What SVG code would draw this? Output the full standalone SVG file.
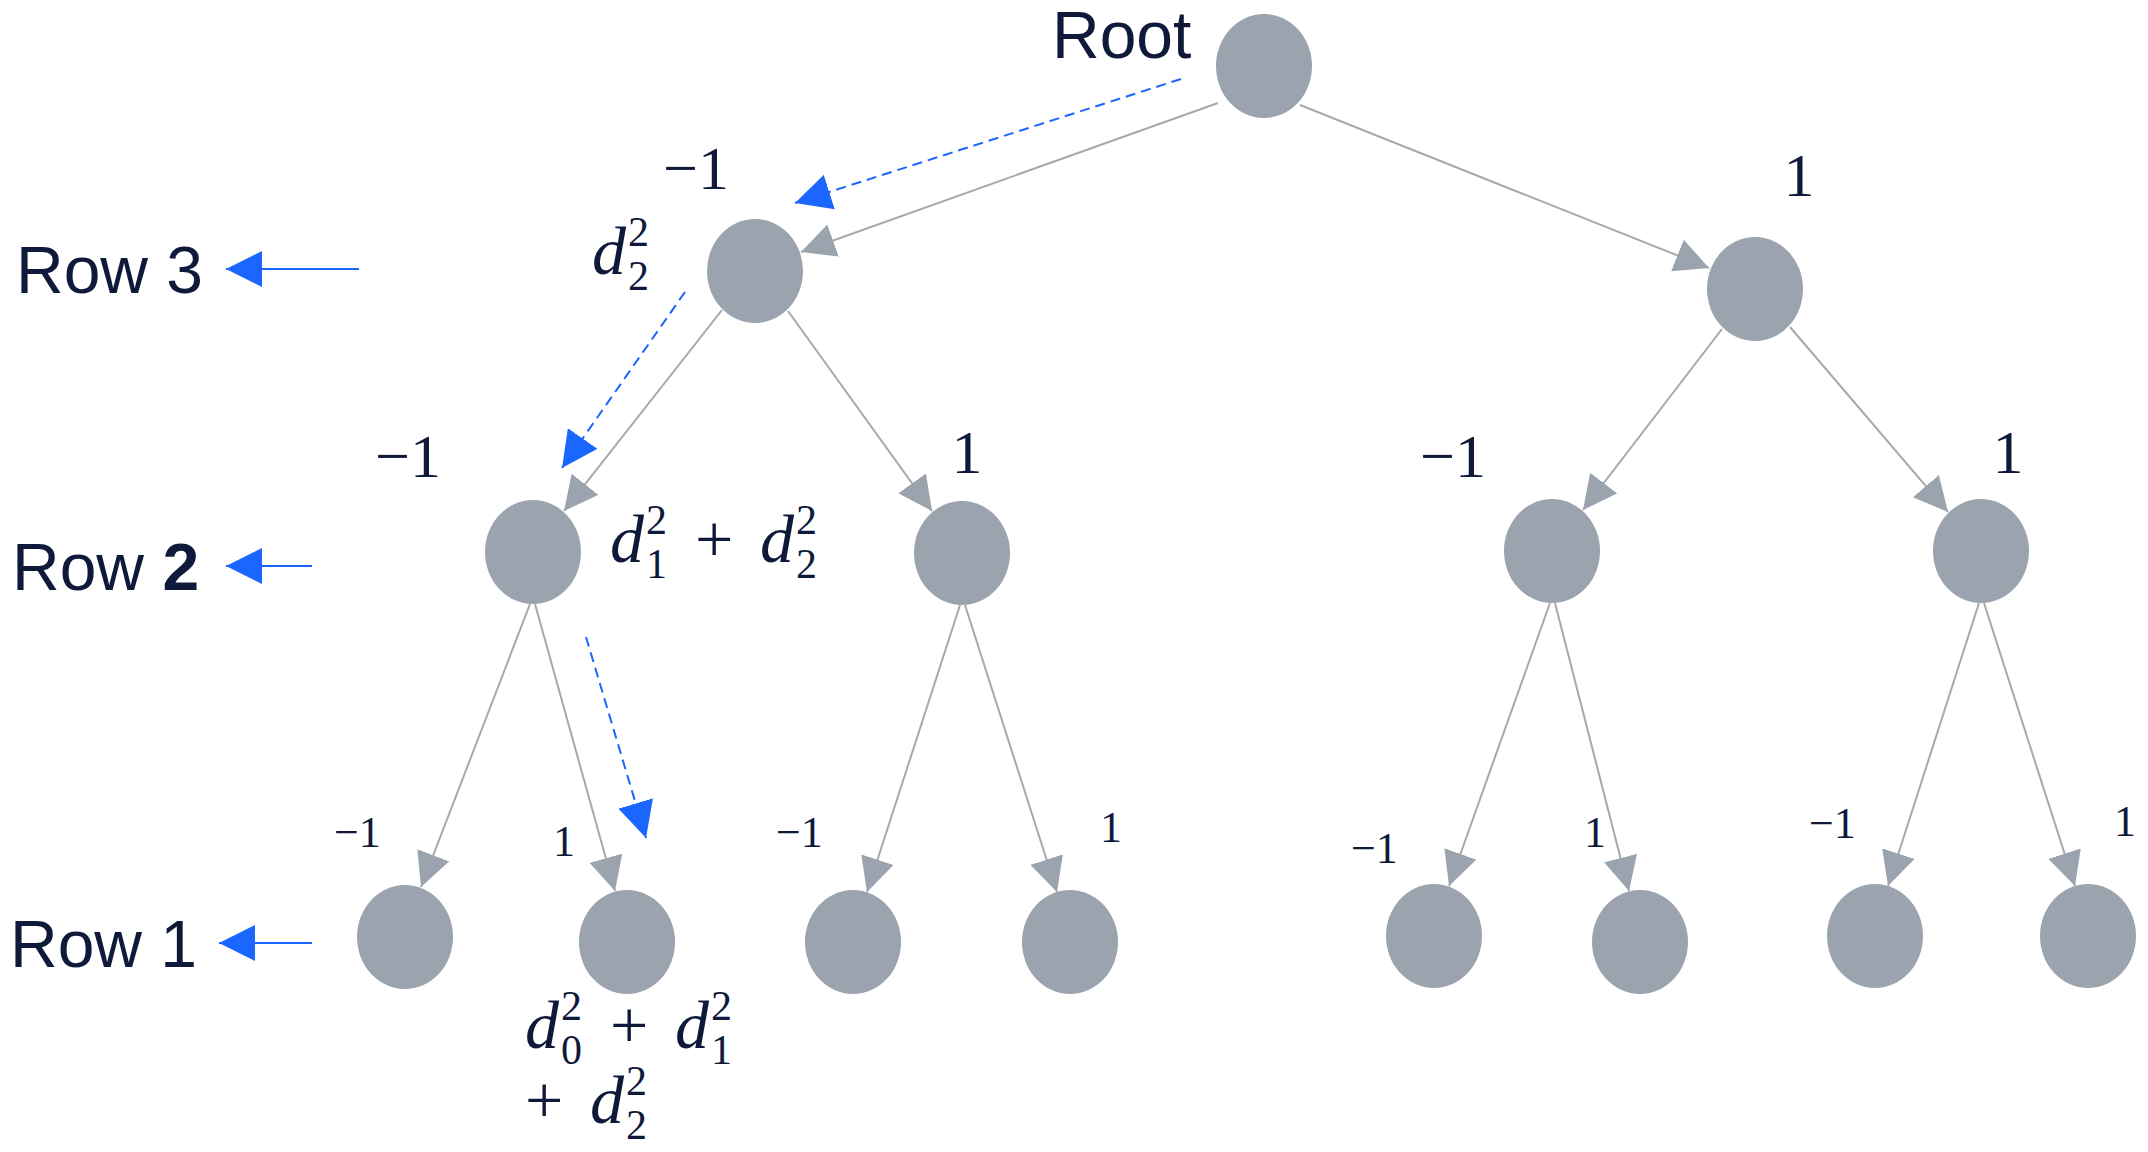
<svg xmlns="http://www.w3.org/2000/svg" width="2148" height="1152" viewBox="0 0 2148 1152">
<style>
.n{fill:#9aa3ae}
.e{stroke:#a8a8a8;stroke-width:2;fill:none;marker-end:url(#ga)}
.b{stroke:#1a66ff;stroke-width:2;fill:none;stroke-dasharray:10 6;marker-end:url(#ba)}
.r{stroke:#1a66ff;stroke-width:2;fill:none;marker-end:url(#ba)}
.t{font-family:"Liberation Sans",Arial,sans-serif;font-size:66px;fill:#0f1a3a}
.v{font-family:"Liberation Serif","Times New Roman",serif;font-size:62px;fill:#0f1a3a}
.s{font-family:"Liberation Serif","Times New Roman",serif;font-size:44px;fill:#0f1a3a}
.m{font-family:"Liberation Serif","Times New Roman",serif;font-size:68px;font-style:italic;fill:#0f1a3a}
.pl{font-family:"Liberation Serif","Times New Roman",serif;font-size:68px;fill:#0f1a3a}
.p{font-family:"Liberation Serif","Times New Roman",serif;font-size:42px;fill:#0f1a3a}
</style>
<defs>
<marker id="ga" viewBox="0 0 10 10" refX="10" refY="5" markerWidth="34" markerHeight="34" markerUnits="userSpaceOnUse" orient="auto"><path d="M0,0L10,5L0,10z" fill="#9aa3ae"/></marker>
<marker id="ba" viewBox="0 0 10 10" refX="10" refY="5" markerWidth="36" markerHeight="36" markerUnits="userSpaceOnUse" orient="auto"><path d="M0,0L10,5L0,10z" fill="#1a66ff"/></marker>
</defs>
<rect width="2148" height="1152" fill="#fff"/>
<g id="connectors">
<line class="e" x1="1218" y1="103" x2="801" y2="252"/>
<line class="e" x1="1300" y1="105" x2="1709" y2="268"/>
<line class="e" x1="722" y1="310" x2="564" y2="511"/>
<line class="e" x1="788" y1="311" x2="932" y2="511"/>
<line class="e" x1="1722" y1="329" x2="1583" y2="510"/>
<line class="e" x1="1790" y1="327" x2="1948" y2="512"/>
<line class="e" x1="530" y1="604" x2="421" y2="887"/>
<line class="e" x1="535" y1="604" x2="615" y2="891"/>
<line class="e" x1="960" y1="605" x2="867" y2="892"/>
<line class="e" x1="965" y1="605" x2="1057" y2="892"/>
<line class="e" x1="1550" y1="603" x2="1449" y2="886"/>
<line class="e" x1="1555" y1="603" x2="1629" y2="891"/>
<line class="e" x1="1979" y1="603" x2="1888" y2="886"/>
<line class="e" x1="1984" y1="603" x2="2075" y2="886"/>
<line class="b" x1="1181" y1="79" x2="795" y2="203"/>
<line class="b" x1="685" y1="292" x2="562" y2="468"/>
<line class="b" x1="586" y1="637" x2="646" y2="838"/>
<line class="r" x1="359" y1="269" x2="226" y2="269"/>
<line class="r" x1="312" y1="566" x2="226" y2="566"/>
<line class="r" x1="312" y1="943" x2="219" y2="943"/>
</g>
<g id="root"><ellipse class="n" cx="1264" cy="66" rx="48" ry="52"/><text class="t" x="1052" y="58">Root</text></g>
<g id="n1"><ellipse class="n" cx="755" cy="271" rx="48" ry="52"/></g>
<g id="n2"><ellipse class="n" cx="1755" cy="289" rx="48" ry="52"/></g>
<g id="n3"><ellipse class="n" cx="533" cy="552" rx="48" ry="52"/></g>
<g id="n4"><ellipse class="n" cx="962" cy="553" rx="48" ry="52"/></g>
<g id="n5"><ellipse class="n" cx="1552" cy="551" rx="48" ry="52"/></g>
<g id="n6"><ellipse class="n" cx="1981" cy="551" rx="48" ry="52"/></g>
<g id="n7"><ellipse class="n" cx="405" cy="937" rx="48" ry="52"/></g>
<g id="n8"><ellipse class="n" cx="627" cy="942" rx="48" ry="52"/></g>
<g id="n9"><ellipse class="n" cx="853" cy="942" rx="48" ry="52"/></g>
<g id="n10"><ellipse class="n" cx="1070" cy="942" rx="48" ry="52"/></g>
<g id="n11"><ellipse class="n" cx="1434" cy="936" rx="48" ry="52"/></g>
<g id="n12"><ellipse class="n" cx="1640" cy="942" rx="48" ry="52"/></g>
<g id="n13"><ellipse class="n" cx="1875" cy="936" rx="48" ry="52"/></g>
<g id="n14"><ellipse class="n" cx="2088" cy="936" rx="48" ry="52"/></g>
<g id="labels">
<text class="v" x="663" y="189">−1</text>
<text class="v" x="1799" y="196" text-anchor="middle">1</text>
<text class="v" x="375" y="477">−1</text>
<text class="v" x="967" y="473" text-anchor="middle">1</text>
<text class="v" x="1420" y="477">−1</text>
<text class="v" x="2008" y="473" text-anchor="middle">1</text>
<text class="s" x="334" y="847">−1</text>
<text class="s" x="564" y="856" text-anchor="middle">1</text>
<text class="s" x="776" y="847">−1</text>
<text class="s" x="1111" y="842" text-anchor="middle">1</text>
<text class="s" x="1351" y="863">−1</text>
<text class="s" x="1595" y="847" text-anchor="middle">1</text>
<text class="s" x="1809" y="838">−1</text>
<text class="s" x="2125" y="836" text-anchor="middle">1</text>
<text class="t" x="16" y="293">Row 3</text>
<text class="t" x="12" y="590">Row <tspan font-weight="bold">2</tspan></text>
<text class="t" x="10" y="967">Row 1</text>
</g>
<g id="math">
<text class="m" x="592" y="274">d</text><text class="p" x="628" y="246">2</text><text class="p" x="628" y="290">2</text>
<text class="m" x="610" y="562">d</text><text class="p" x="646" y="534">2</text><text class="p" x="646" y="578">1</text>
<text class="pl" x="695" y="562">+</text>
<text class="m" x="760" y="562">d</text><text class="p" x="796" y="534">2</text><text class="p" x="796" y="578">2</text>
<text class="m" x="525" y="1048">d</text><text class="p" x="561" y="1020">2</text><text class="p" x="561" y="1064">0</text>
<text class="pl" x="610" y="1048">+</text>
<text class="m" x="675" y="1048">d</text><text class="p" x="711" y="1020">2</text><text class="p" x="711" y="1064">1</text>
<text class="pl" x="525" y="1123">+</text>
<text class="m" x="590" y="1123">d</text><text class="p" x="626" y="1095">2</text><text class="p" x="626" y="1139">2</text>
</g>
</svg>
